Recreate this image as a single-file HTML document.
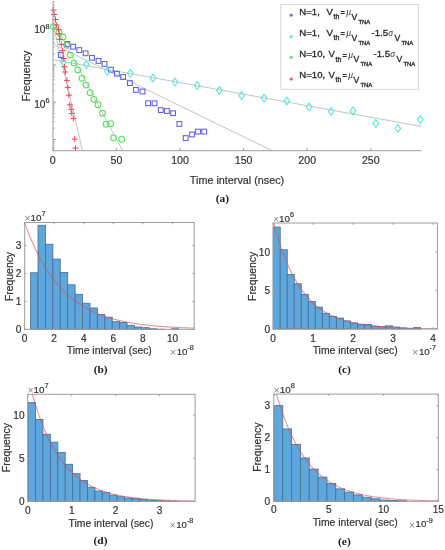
<!DOCTYPE html>
<html><head><meta charset="utf-8"><title>Figure</title>
<style>html,body{margin:0;padding:0;background:#fff;}svg{display:block;}svg text{stroke:#2b2b2b;stroke-width:0.18px;}svg .lg text{stroke-width:0.32px;}</style>
</head><body>
<svg width="445" height="550" viewBox="0 0 445 550">
<rect width="445" height="550" fill="#fff"/>
<g stroke="#c4c4c4" stroke-width="1" fill="none">
<line x1="53.0" y1="24.0" x2="82.5" y2="150.7"/>
<line x1="53.0" y1="20.5" x2="122.6" y2="150.7"/>
<line x1="53.0" y1="44.0" x2="272.1" y2="150.7"/>
<line x1="53.0" y1="59.6" x2="421.4" y2="126.4"/>
</g>
<g stroke="#5f5fe2" stroke-width="1.05" fill="none">
<rect x="58.4" y="52.6" width="4.8" height="4.8"/>
<rect x="65" y="41.6" width="4.8" height="4.8"/>
<rect x="70.7" y="44.3" width="4.8" height="4.8"/>
<rect x="76.9" y="47.7" width="4.8" height="4.8"/>
<rect x="83.2" y="50.9" width="4.8" height="4.8"/>
<rect x="89.6" y="55.4" width="4.8" height="4.8"/>
<rect x="96.1" y="58.5" width="4.8" height="4.8"/>
<rect x="102.1" y="61.5" width="4.8" height="4.8"/>
<rect x="108.5" y="67.3" width="4.8" height="4.8"/>
<rect x="114.5" y="71.3" width="4.8" height="4.8"/>
<rect x="120.7" y="74.6" width="4.8" height="4.8"/>
<rect x="127.5" y="80.7" width="4.8" height="4.8"/>
<rect x="133.5" y="87.5" width="4.8" height="4.8"/>
<rect x="140.1" y="89.1" width="4.8" height="4.8"/>
<rect x="145.7" y="100.9" width="4.8" height="4.8"/>
<rect x="152.1" y="100.9" width="4.8" height="4.8"/>
<rect x="158.4" y="107.7" width="4.8" height="4.8"/>
<rect x="164.5" y="108.6" width="4.8" height="4.8"/>
<rect x="170.7" y="110.8" width="4.8" height="4.8"/>
<rect x="177" y="121.5" width="4.8" height="4.8"/>
<rect x="183.3" y="135.7" width="4.8" height="4.8"/>
<rect x="189.6" y="132.1" width="4.8" height="4.8"/>
<rect x="195.6" y="129.2" width="4.8" height="4.8"/>
<rect x="201.8" y="129.2" width="4.8" height="4.8"/>
</g>
<g stroke="#55e4dd" stroke-width="1.05" fill="none">
<path d="M63.5 58.4L66.3 62.3L63.5 66.2L60.7 62.3Z"/>
<path d="M86.3 60.7L89.1 64.6L86.3 68.5L83.5 64.6Z"/>
<path d="M107.2 67.4L110 71.3L107.2 75.2L104.4 71.3Z"/>
<path d="M130.4 69.4L133.2 73.3L130.4 77.2L127.6 73.3Z"/>
<path d="M152.9 74.1L155.7 78L152.9 81.9L150.1 78Z"/>
<path d="M174.9 78.1L177.7 82L174.9 85.9L172.1 82Z"/>
<path d="M197.2 81.6L200 85.5L197.2 89.4L194.4 85.5Z"/>
<path d="M219.4 86.6L222.2 90.5L219.4 94.4L216.6 90.5Z"/>
<path d="M241.7 91.7L244.5 95.6L241.7 99.5L238.9 95.6Z"/>
<path d="M264.1 94.2L266.9 98.1L264.1 102L261.3 98.1Z"/>
<path d="M286.8 97.1L289.6 101L286.8 104.9L284 101Z"/>
<path d="M309.1 103.1L311.9 107L309.1 110.9L306.3 107Z"/>
<path d="M331.2 107.6L334 111.5L331.2 115.4L328.4 111.5Z"/>
<path d="M353 107L355.8 110.9L353 114.8L350.2 110.9Z"/>
<path d="M375.8 119.5L378.6 123.4L375.8 127.3L373 123.4Z"/>
<path d="M397.8 124.6L400.6 128.5L397.8 132.4L395 128.5Z"/>
<path d="M420.3 115.7L423.1 119.6L420.3 123.5L417.5 119.6Z"/>
</g>
<g stroke="#5cdd5c" stroke-width="1.05" fill="none">
<circle cx="53.4" cy="26.6" r="2.9"/>
<circle cx="59" cy="32.6" r="2.9"/>
<circle cx="63" cy="37" r="2.9"/>
<circle cx="66.6" cy="45.3" r="2.9"/>
<circle cx="70.2" cy="55.1" r="2.9"/>
<circle cx="74" cy="63.1" r="2.9"/>
<circle cx="77.8" cy="69.9" r="2.9"/>
<circle cx="82" cy="78.3" r="2.9"/>
<circle cx="86.1" cy="85.1" r="2.9"/>
<circle cx="90.2" cy="92.7" r="2.9"/>
<circle cx="93.9" cy="99.3" r="2.9"/>
<circle cx="98" cy="104.7" r="2.9"/>
<circle cx="102.5" cy="113.2" r="2.9"/>
<circle cx="106" cy="124.3" r="2.9"/>
<circle cx="110.6" cy="123.7" r="2.9"/>
<circle cx="113.6" cy="137.8" r="2.9"/>
<circle cx="121.7" cy="139.3" r="2.9"/>
</g>
<g stroke="#ec4452" stroke-width="1.0" fill="none">
<path d="M50.4 10.1H56.4M53.4 7.1V13.1"/>
<path d="M51.1 14.5H57.1M54.1 11.5V17.5"/>
<path d="M52.5 19.6H58.5M55.5 16.6V22.6"/>
<path d="M53.8 25H59.8M56.8 22V28"/>
<path d="M55.5 29.4H61.5M58.5 26.4V32.4"/>
<path d="M56 33.7H62M59 30.7V36.7"/>
<path d="M56.6 39.3H62.6M59.6 36.3V42.3"/>
<path d="M58.3 44.4H64.3M61.3 41.4V47.4"/>
<path d="M59.4 50.7H65.4M62.4 47.7V53.7"/>
<path d="M60.8 58.5H66.8M63.8 55.5V61.5"/>
<path d="M61.4 66.8H67.4M64.4 63.8V69.8"/>
<path d="M62.3 72H68.3M65.3 69V75"/>
<path d="M63.9 80.4H69.9M66.9 77.4V83.4"/>
<path d="M64.8 87.4H70.8M67.8 84.4V90.4"/>
<path d="M65.9 95.2H71.9M68.9 92.2V98.2"/>
<path d="M66.8 104.9H72.8M69.8 101.9V107.9"/>
<path d="M68.2 109.3H74.2M71.2 106.3V112.3"/>
<path d="M68.8 113.4H74.8M71.8 110.4V116.4"/>
<path d="M70.4 118.6H76.4M73.4 115.6V121.6"/>
<path d="M71.7 139.1H77.7M74.7 136.1V142.1"/>
<path d="M72.5 148.1H78.5M75.5 145.1V151.1"/>
</g>
<g stroke="#9c9c9c" stroke-width="1" fill="none">
<path d="M53.0 1.6V150.7H421.4"/>
<line x1="52.8" y1="150.7" x2="52.8" y2="148.1"/>
<line x1="116.4" y1="150.7" x2="116.4" y2="148.1"/>
<line x1="180" y1="150.7" x2="180" y2="148.1"/>
<line x1="243.6" y1="150.7" x2="243.6" y2="148.1"/>
<line x1="307.2" y1="150.7" x2="307.2" y2="148.1"/>
<line x1="370.8" y1="150.7" x2="370.8" y2="148.1"/>
<line x1="53.0" y1="150.66" x2="54.6" y2="150.66"/>
<line x1="53.0" y1="147.71" x2="54.6" y2="147.71"/>
<line x1="53.0" y1="145.22" x2="54.6" y2="145.22"/>
<line x1="53.0" y1="143.06" x2="54.6" y2="143.06"/>
<line x1="53.0" y1="141.15" x2="54.6" y2="141.15"/>
<line x1="53.0" y1="139.45" x2="56" y2="139.45"/>
<line x1="53.0" y1="128.24" x2="54.6" y2="128.24"/>
<line x1="53.0" y1="121.68" x2="54.6" y2="121.68"/>
<line x1="53.0" y1="117.02" x2="54.6" y2="117.02"/>
<line x1="53.0" y1="113.41" x2="54.6" y2="113.41"/>
<line x1="53.0" y1="110.46" x2="54.6" y2="110.46"/>
<line x1="53.0" y1="107.97" x2="54.6" y2="107.97"/>
<line x1="53.0" y1="105.81" x2="54.6" y2="105.81"/>
<line x1="53.0" y1="103.9" x2="54.6" y2="103.9"/>
<line x1="53.0" y1="102.2" x2="56" y2="102.2"/>
<line x1="53.0" y1="90.99" x2="54.6" y2="90.99"/>
<line x1="53.0" y1="84.43" x2="54.6" y2="84.43"/>
<line x1="53.0" y1="79.77" x2="54.6" y2="79.77"/>
<line x1="53.0" y1="76.16" x2="54.6" y2="76.16"/>
<line x1="53.0" y1="73.21" x2="54.6" y2="73.21"/>
<line x1="53.0" y1="70.72" x2="54.6" y2="70.72"/>
<line x1="53.0" y1="68.56" x2="54.6" y2="68.56"/>
<line x1="53.0" y1="66.65" x2="54.6" y2="66.65"/>
<line x1="53.0" y1="64.95" x2="56" y2="64.95"/>
<line x1="53.0" y1="53.74" x2="54.6" y2="53.74"/>
<line x1="53.0" y1="47.18" x2="54.6" y2="47.18"/>
<line x1="53.0" y1="42.52" x2="54.6" y2="42.52"/>
<line x1="53.0" y1="38.91" x2="54.6" y2="38.91"/>
<line x1="53.0" y1="35.96" x2="54.6" y2="35.96"/>
<line x1="53.0" y1="33.47" x2="54.6" y2="33.47"/>
<line x1="53.0" y1="31.31" x2="54.6" y2="31.31"/>
<line x1="53.0" y1="29.4" x2="54.6" y2="29.4"/>
<line x1="53.0" y1="27.7" x2="56" y2="27.7"/>
<line x1="53.0" y1="16.49" x2="54.6" y2="16.49"/>
<line x1="53.0" y1="9.93" x2="54.6" y2="9.93"/>
<line x1="53.0" y1="5.27" x2="54.6" y2="5.27"/>
<line x1="53.0" y1="1.66" x2="54.6" y2="1.66"/>
</g>
<g font-family='"Liberation Sans", Arial, Helvetica, sans-serif' fill="#333333" font-size="10.6" text-anchor="middle">
<text x="52.8" y="164">0</text>
<text x="116.4" y="164">50</text>
<text x="180" y="164">100</text>
<text x="243.6" y="164">150</text>
<text x="307.2" y="164">200</text>
<text x="370.8" y="164">250</text>
</g>
<text font-family='"Liberation Sans", Arial, Helvetica, sans-serif' fill="#333333" font-size="10.2" x="34.2" y="33.1">10<tspan font-size="7.2" dy="-4.3">8</tspan></text>
<text font-family='"Liberation Sans", Arial, Helvetica, sans-serif' fill="#333333" font-size="10.2" x="34.2" y="107.6">10<tspan font-size="7.2" dy="-4.3">6</tspan></text>
<text font-family='"Liberation Sans", Arial, Helvetica, sans-serif' fill="#333333" font-size="10.8" text-anchor="middle" x="237" y="184">Time interval (nsec)</text>
<text font-family='"Liberation Sans", Arial, Helvetica, sans-serif' fill="#333333" font-size="10.8" text-anchor="middle" transform="translate(30.0 76.0) rotate(-90)">Frequency</text>
<text font-family='"Liberation Serif", "Times New Roman", serif' font-weight="bold" fill="#1a1a1a" style="stroke:none" font-size="11.4" text-anchor="middle" x="222.3" y="202.2">(a)</text>
<g class="lg">
<rect x="280.8" y="4.5" width="137.8" height="84.8" fill="#fff" stroke="#d6d6d6" stroke-width="1"/>
<circle cx="291.2" cy="15.2" r="1.6" fill="#5a5ae0" fill-opacity="0.85"/>
<text font-family='"Liberation Sans", Arial, Helvetica, sans-serif' fill='#262626' font-size="9.6" x="299.3" y="15">N=1,</text>
<text font-family='"Liberation Sans", Arial, Helvetica, sans-serif' fill='#262626' font-size="9.6" x="326.6" y="15">V</text>
<text font-family='"Liberation Sans", Arial, Helvetica, sans-serif' fill='#262626' font-size="7" x="333.6" y="19.4">th</text>
<text font-family='"Liberation Sans", Arial, Helvetica, sans-serif' fill='#262626' font-size="7.4" x="340.6" y="15.4">=</text>
<text font-family='"Liberation Serif", "Times New Roman", serif' font-style='italic' fill='#333' style='stroke:none' font-size="9.6" x="346.2" y="15.4">&#956;</text>
<text font-family='"Liberation Sans", Arial, Helvetica, sans-serif' fill='#262626' font-size="8.6" x="351.5" y="19.6">V</text>
<text font-family='"Liberation Sans", Arial, Helvetica, sans-serif' fill='#262626' font-size="5.9" x="358.5" y="23.9">TNA</text>
<circle cx="291.2" cy="36.7" r="1.6" fill="#4ce3dc" fill-opacity="0.85"/>
<text font-family='"Liberation Sans", Arial, Helvetica, sans-serif' fill='#262626' font-size="9.6" x="299.3" y="36">N=1,</text>
<text font-family='"Liberation Sans", Arial, Helvetica, sans-serif' fill='#262626' font-size="9.6" x="326.6" y="36">V</text>
<text font-family='"Liberation Sans", Arial, Helvetica, sans-serif' fill='#262626' font-size="7" x="333.6" y="40.4">th</text>
<text font-family='"Liberation Sans", Arial, Helvetica, sans-serif' fill='#262626' font-size="7.4" x="340.6" y="36.4">=</text>
<text font-family='"Liberation Serif", "Times New Roman", serif' font-style='italic' fill='#333' style='stroke:none' font-size="9.6" x="346.2" y="36.4">&#956;</text>
<text font-family='"Liberation Sans", Arial, Helvetica, sans-serif' fill='#262626' font-size="8.6" x="351.5" y="40.6">V</text>
<text font-family='"Liberation Sans", Arial, Helvetica, sans-serif' fill='#262626' font-size="5.9" x="358.5" y="44.9">TNA</text>
<text font-family='"Liberation Sans", Arial, Helvetica, sans-serif' fill='#262626' font-size="9.6" x="371.6" y="36">-1.5</text>
<text font-family='"Liberation Serif", "Times New Roman", serif' font-style='italic' fill='#333' style='stroke:none' font-size="9.6" x="388.2" y="36">&#963;</text>
<text font-family='"Liberation Sans", Arial, Helvetica, sans-serif' fill='#262626' font-size="8.6" x="394.5" y="40.6">V</text>
<text font-family='"Liberation Sans", Arial, Helvetica, sans-serif' fill='#262626' font-size="5.9" x="401.4" y="44.9">TNA</text>
<circle cx="291.2" cy="57.4" r="1.6" fill="#4fdc4f" fill-opacity="0.85"/>
<text font-family='"Liberation Sans", Arial, Helvetica, sans-serif' fill='#262626' font-size="9.6" x="299.3" y="57.2">N=10,</text>
<text font-family='"Liberation Sans", Arial, Helvetica, sans-serif' fill='#262626' font-size="9.6" x="328.6" y="57.2">V</text>
<text font-family='"Liberation Sans", Arial, Helvetica, sans-serif' fill='#262626' font-size="7" x="335.6" y="61.6">th</text>
<text font-family='"Liberation Sans", Arial, Helvetica, sans-serif' fill='#262626' font-size="7.4" x="342.6" y="57.6">=</text>
<text font-family='"Liberation Serif", "Times New Roman", serif' font-style='italic' fill='#333' style='stroke:none' font-size="9.6" x="348.2" y="57.6">&#956;</text>
<text font-family='"Liberation Sans", Arial, Helvetica, sans-serif' fill='#262626' font-size="8.6" x="353.5" y="61.8">V</text>
<text font-family='"Liberation Sans", Arial, Helvetica, sans-serif' fill='#262626' font-size="5.9" x="360.5" y="66.1">TNA</text>
<text font-family='"Liberation Sans", Arial, Helvetica, sans-serif' fill='#262626' font-size="9.6" x="373.6" y="57.2">-1.5</text>
<text font-family='"Liberation Serif", "Times New Roman", serif' font-style='italic' fill='#333' style='stroke:none' font-size="9.6" x="390.2" y="57.2">&#963;</text>
<text font-family='"Liberation Sans", Arial, Helvetica, sans-serif' fill='#262626' font-size="8.6" x="396.5" y="61.8">V</text>
<text font-family='"Liberation Sans", Arial, Helvetica, sans-serif' fill='#262626' font-size="5.9" x="403.4" y="66.1">TNA</text>
<circle cx="291.2" cy="79" r="1.6" fill="#ec3b48" fill-opacity="0.85"/>
<text font-family='"Liberation Sans", Arial, Helvetica, sans-serif' fill='#262626' font-size="9.6" x="299.3" y="77.9">N=10,</text>
<text font-family='"Liberation Sans", Arial, Helvetica, sans-serif' fill='#262626' font-size="9.6" x="328.6" y="77.9">V</text>
<text font-family='"Liberation Sans", Arial, Helvetica, sans-serif' fill='#262626' font-size="7" x="335.6" y="82.3">th</text>
<text font-family='"Liberation Sans", Arial, Helvetica, sans-serif' fill='#262626' font-size="7.4" x="342.6" y="78.3">=</text>
<text font-family='"Liberation Serif", "Times New Roman", serif' font-style='italic' fill='#333' style='stroke:none' font-size="9.6" x="348.2" y="78.3">&#956;</text>
<text font-family='"Liberation Sans", Arial, Helvetica, sans-serif' fill='#262626' font-size="8.6" x="353.5" y="82.5">V</text>
<text font-family='"Liberation Sans", Arial, Helvetica, sans-serif' fill='#262626' font-size="5.9" x="360.5" y="86.8">TNA</text>
</g>
<g fill="#5da7dc" stroke="#4a7094" stroke-width="0.85">
<rect x="30.6" y="272.78" width="7.42" height="56.52"/>
<rect x="38.02" y="225.27" width="7.42" height="104.03"/>
<rect x="45.44" y="244.27" width="7.42" height="85.03"/>
<rect x="52.86" y="259.09" width="7.42" height="70.21"/>
<rect x="60.28" y="272.5" width="7.42" height="56.8"/>
<rect x="67.7" y="284.8" width="7.42" height="44.5"/>
<rect x="75.12" y="294.3" width="7.42" height="35"/>
<rect x="82.54" y="303.25" width="7.42" height="26.05"/>
<rect x="89.96" y="308" width="7.42" height="21.3"/>
<rect x="97.38" y="314.43" width="7.42" height="14.87"/>
<rect x="104.8" y="317.22" width="7.42" height="12.08"/>
<rect x="112.22" y="321.69" width="7.42" height="7.61"/>
<rect x="119.64" y="322.53" width="7.42" height="6.77"/>
<rect x="127.06" y="325.33" width="7.42" height="3.97"/>
<rect x="134.48" y="327" width="7.42" height="2.3"/>
<rect x="141.9" y="327.7" width="7.42" height="1.6"/>
<rect x="149.32" y="328.79" width="7.42" height="0.51"/>
<rect x="156.74" y="329.24" width="7.42" height="0.06"/>
<rect x="164.16" y="329.46" width="7.42" height="-0.16"/>
<rect x="171.58" y="328.79" width="7.42" height="0.51"/>
<rect x="179" y="329.52" width="7.42" height="-0.22"/>
</g>
<path d="M24.55 222.5 L25.97 226.39 L27.38 230.13 L28.8 233.74 L30.21 237.22 L31.62 240.57 L33.04 243.8 L34.45 246.91 L35.87 249.91 L37.28 252.8 L38.69 255.59 L40.11 258.27 L41.52 260.86 L42.94 263.35 L44.35 265.75 L45.77 268.07 L47.18 270.3 L48.59 272.44 L50.01 274.51 L51.42 276.51 L52.84 278.43 L54.25 280.29 L55.67 282.07 L57.08 283.79 L58.49 285.45 L59.91 287.05 L61.32 288.59 L62.74 290.07 L64.15 291.5 L65.56 292.88 L66.98 294.21 L68.39 295.49 L69.81 296.72 L71.22 297.91 L72.64 299.05 L74.05 300.16 L75.46 301.22 L76.88 302.25 L78.29 303.23 L79.71 304.18 L81.12 305.1 L82.53 305.98 L83.95 306.84 L85.36 307.66 L86.78 308.45 L88.19 309.21 L89.61 309.94 L91.02 310.65 L92.43 311.33 L93.85 311.99 L95.26 312.62 L96.68 313.23 L98.09 313.82 L99.51 314.39 L100.92 314.93 L102.33 315.46 L103.75 315.96 L105.16 316.45 L106.58 316.92 L107.99 317.38 L109.4 317.81 L110.82 318.24 L112.23 318.64 L113.65 319.03 L115.06 319.41 L116.48 319.77 L117.89 320.12 L119.3 320.46 L120.72 320.79 L122.13 321.1 L123.55 321.4 L124.96 321.69 L126.37 321.97 L127.79 322.24 L129.2 322.5 L130.62 322.75 L132.03 322.99 L133.45 323.23 L134.86 323.45 L136.27 323.67 L137.69 323.88 L139.1 324.08 L140.52 324.27 L141.93 324.46 L143.35 324.64 L144.76 324.81 L146.17 324.98 L147.59 325.14 L149 325.29 L150.42 325.44 L151.83 325.59 L153.24 325.72 L154.66 325.86 L156.07 325.99 L157.49 326.11 L158.9 326.23 L160.32 326.35 L161.73 326.46 L163.14 326.56 L164.56 326.67 L165.97 326.77 L167.39 326.86 L168.8 326.95 L170.21 327.04 L171.63 327.13 L173.04 327.21 L174.46 327.29 L175.87 327.37 L177.29 327.44 L178.7 327.51 L180.11 327.58 L181.53 327.65 L182.94 327.71 L184.36 327.77 L185.77 327.83 L187.19 327.89 L188.6 327.94 L190.01 328 L191.43 328.05 L192.84 328.1 L194.26 328.14" fill="none" stroke="#dc4a5e" stroke-opacity="0.62" stroke-width="1.05"/>
<rect x="24.7" y="222.5" width="169.5" height="106.8" fill="none" stroke="#9c9c9c" stroke-width="1"/>
<g stroke="#9c9c9c" stroke-width="1">
<line x1="24.5" y1="329.3" x2="24.5" y2="327.5"/><line x1="24.5" y1="222.5" x2="24.5" y2="224.3"/>
<line x1="54.1" y1="329.3" x2="54.1" y2="327.5"/><line x1="54.1" y1="222.5" x2="54.1" y2="224.3"/>
<line x1="83.7" y1="329.3" x2="83.7" y2="327.5"/><line x1="83.7" y1="222.5" x2="83.7" y2="224.3"/>
<line x1="113.3" y1="329.3" x2="113.3" y2="327.5"/><line x1="113.3" y1="222.5" x2="113.3" y2="224.3"/>
<line x1="142.9" y1="329.3" x2="142.9" y2="327.5"/><line x1="142.9" y1="222.5" x2="142.9" y2="224.3"/>
<line x1="172.5" y1="329.3" x2="172.5" y2="327.5"/><line x1="172.5" y1="222.5" x2="172.5" y2="224.3"/>
<line x1="24.7" y1="329.4" x2="26.5" y2="329.4"/><line x1="194.2" y1="329.4" x2="192.4" y2="329.4"/>
<line x1="24.7" y1="301.45" x2="26.5" y2="301.45"/><line x1="194.2" y1="301.45" x2="192.4" y2="301.45"/>
<line x1="24.7" y1="273.5" x2="26.5" y2="273.5"/><line x1="194.2" y1="273.5" x2="192.4" y2="273.5"/>
<line x1="24.7" y1="245.55" x2="26.5" y2="245.55"/><line x1="194.2" y1="245.55" x2="192.4" y2="245.55"/>
</g>
<g font-family='"Liberation Sans", Arial, Helvetica, sans-serif' fill="#333333" font-size="10.1" text-anchor="middle">
<text x="24.5" y="341.9">0</text>
<text x="54.1" y="341.9">2</text>
<text x="83.7" y="341.9">4</text>
<text x="113.3" y="341.9">6</text>
<text x="142.9" y="341.9">8</text>
<text x="172.5" y="341.9">10</text>
</g>
<g font-family='"Liberation Sans", Arial, Helvetica, sans-serif' fill="#333333" font-size="10.1" text-anchor="end">
<text x="21.3" y="332.9">0</text>
<text x="21.3" y="304.95">1</text>
<text x="21.3" y="277">2</text>
<text x="21.3" y="249.05">3</text>
</g>
<text font-family='"Liberation Sans", Arial, Helvetica, sans-serif' fill="#333333" font-size="9.9" x="24.4" y="221.4"><tspan fill="#858585" font-size="10.4" dy="0.9" style="stroke:none">&#215;</tspan><tspan dy="-0.9">10</tspan><tspan font-size="7.4" dy="-5.0">7</tspan></text>
<text font-family='"Liberation Sans", Arial, Helvetica, sans-serif' fill="#333333" font-size="10.4" text-anchor="middle" x="109.3" y="353.5">Time interval (sec)</text>
<text font-family='"Liberation Sans", Arial, Helvetica, sans-serif' fill="#333333" font-size="9.6" x="170" y="354.5"><tspan fill="#858585" font-size="10.4" dy="1.2" style="stroke:none">&#215;</tspan><tspan dx="0.6" dy="-1.2">10</tspan><tspan font-size="7.2" dy="-4.8">-8</tspan></text>
<text font-family='"Liberation Sans", Arial, Helvetica, sans-serif' fill="#333333" font-size="10.4" text-anchor="middle" transform="translate(13.2 276.5) rotate(-90)">Frequency</text>
<text font-family='"Liberation Serif", "Times New Roman", serif' font-weight="bold" fill="#1a1a1a" style="stroke:none" font-size="11.4" text-anchor="middle" x="100.6" y="373.1">(b)</text>
<g fill="#5da7dc" stroke="#4a7094" stroke-width="0.85">
<rect x="273.2" y="227.06" width="7.02" height="101.94"/>
<rect x="280.22" y="249.77" width="7.02" height="79.23"/>
<rect x="287.24" y="274.49" width="7.02" height="54.51"/>
<rect x="294.26" y="283.73" width="7.02" height="45.27"/>
<rect x="301.28" y="294.36" width="7.02" height="34.64"/>
<rect x="308.3" y="301.6" width="7.02" height="27.4"/>
<rect x="315.32" y="307.14" width="7.02" height="21.86"/>
<rect x="322.34" y="313.3" width="7.02" height="15.7"/>
<rect x="329.36" y="316.38" width="7.02" height="12.62"/>
<rect x="336.38" y="318.07" width="7.02" height="10.93"/>
<rect x="343.4" y="320.92" width="7.02" height="8.08"/>
<rect x="350.42" y="322.93" width="7.02" height="6.07"/>
<rect x="357.44" y="324.31" width="7.02" height="4.69"/>
<rect x="364.46" y="324.46" width="7.02" height="4.54"/>
<rect x="371.48" y="326.16" width="7.02" height="2.84"/>
<rect x="378.5" y="326.62" width="7.02" height="2.38"/>
<rect x="385.52" y="325.85" width="7.02" height="3.15"/>
<rect x="392.54" y="327.01" width="7.02" height="1.99"/>
<rect x="399.56" y="327.93" width="7.02" height="1.07"/>
<rect x="406.58" y="328.47" width="7.02" height="0.53"/>
<rect x="413.6" y="327.62" width="7.02" height="1.38"/>
</g>
<path d="M273.83 223 L275.19 228.04 L276.56 232.84 L277.92 237.41 L279.29 241.77 L280.65 245.91 L282.01 249.86 L283.38 253.63 L284.74 257.21 L286.11 260.62 L287.47 263.87 L288.83 266.97 L290.2 269.92 L291.56 272.73 L292.93 275.4 L294.29 277.95 L295.65 280.38 L297.02 282.69 L298.38 284.89 L299.74 286.99 L301.11 288.99 L302.47 290.89 L303.84 292.7 L305.2 294.43 L306.56 296.07 L307.93 297.64 L309.29 299.13 L310.66 300.55 L312.02 301.9 L313.38 303.19 L314.75 304.42 L316.11 305.58 L317.48 306.7 L318.84 307.76 L320.2 308.77 L321.57 309.73 L322.93 310.65 L324.3 311.52 L325.66 312.35 L327.02 313.14 L328.39 313.9 L329.75 314.61 L331.11 315.3 L332.48 315.95 L333.84 316.57 L335.21 317.16 L336.57 317.72 L337.93 318.26 L339.3 318.77 L340.66 319.26 L342.03 319.72 L343.39 320.16 L344.75 320.58 L346.12 320.98 L347.48 321.36 L348.85 321.73 L350.21 322.07 L351.57 322.4 L352.94 322.71 L354.3 323.01 L355.67 323.3 L357.03 323.57 L358.39 323.83 L359.76 324.07 L361.12 324.31 L362.48 324.53 L363.85 324.74 L365.21 324.95 L366.58 325.14 L367.94 325.32 L369.3 325.5 L370.67 325.66 L372.03 325.82 L373.4 325.97 L374.76 326.12 L376.12 326.25 L377.49 326.38 L378.85 326.51 L380.22 326.63 L381.58 326.74 L382.94 326.85 L384.31 326.95 L385.67 327.05 L387.04 327.14 L388.4 327.23 L389.76 327.31 L391.13 327.39 L392.49 327.47 L393.85 327.54 L395.22 327.61 L396.58 327.68 L397.95 327.74 L399.31 327.8 L400.67 327.86 L402.04 327.91 L403.4 327.96 L404.77 328.01 L406.13 328.06 L407.49 328.1 L408.86 328.15 L410.22 328.19 L411.59 328.23 L412.95 328.26 L414.31 328.3 L415.68 328.33 L417.04 328.36 L418.41 328.39 L419.77 328.42 L421.13 328.45 L422.5 328.48 L423.86 328.5 L425.22 328.52 L426.59 328.55 L427.95 328.57 L429.32 328.59 L430.68 328.61 L432.04 328.63 L433.41 328.65 L434.77 328.66 L436.14 328.68 L437.5 328.69" fill="none" stroke="#dc4a5e" stroke-opacity="0.62" stroke-width="1.05"/>
<rect x="273.2" y="223.0" width="164.2" height="106" fill="none" stroke="#9c9c9c" stroke-width="1"/>
<g stroke="#9c9c9c" stroke-width="1">
<line x1="273.1" y1="329.0" x2="273.1" y2="327.2"/><line x1="273.1" y1="223.0" x2="273.1" y2="224.8"/>
<line x1="313.1" y1="329.0" x2="313.1" y2="327.2"/><line x1="313.1" y1="223.0" x2="313.1" y2="224.8"/>
<line x1="353.1" y1="329.0" x2="353.1" y2="327.2"/><line x1="353.1" y1="223.0" x2="353.1" y2="224.8"/>
<line x1="393.1" y1="329.0" x2="393.1" y2="327.2"/><line x1="393.1" y1="223.0" x2="393.1" y2="224.8"/>
<line x1="433.1" y1="329.0" x2="433.1" y2="327.2"/><line x1="433.1" y1="223.0" x2="433.1" y2="224.8"/>
<line x1="273.2" y1="329" x2="275" y2="329"/><line x1="437.4" y1="329" x2="435.6" y2="329"/>
<line x1="273.2" y1="290.5" x2="275" y2="290.5"/><line x1="437.4" y1="290.5" x2="435.6" y2="290.5"/>
<line x1="273.2" y1="252" x2="275" y2="252"/><line x1="437.4" y1="252" x2="435.6" y2="252"/>
</g>
<g font-family='"Liberation Sans", Arial, Helvetica, sans-serif' fill="#333333" font-size="10.1" text-anchor="middle">
<text x="273.1" y="341.5">0</text>
<text x="313.1" y="341.5">1</text>
<text x="353.1" y="341.5">2</text>
<text x="393.1" y="341.5">3</text>
<text x="433.1" y="341.5">4</text>
</g>
<g font-family='"Liberation Sans", Arial, Helvetica, sans-serif' fill="#333333" font-size="10.1" text-anchor="end">
<text x="270" y="332.5">0</text>
<text x="270" y="294">5</text>
<text x="270" y="255.5">10</text>
</g>
<text font-family='"Liberation Sans", Arial, Helvetica, sans-serif' fill="#333333" font-size="9.9" x="272.9" y="221.9"><tspan fill="#858585" font-size="10.4" dy="0.9" style="stroke:none">&#215;</tspan><tspan dy="-0.9">10</tspan><tspan font-size="7.4" dy="-5.0">6</tspan></text>
<text font-family='"Liberation Sans", Arial, Helvetica, sans-serif' fill="#333333" font-size="10.4" text-anchor="middle" x="355.2" y="353.5">Time interval (sec)</text>
<text font-family='"Liberation Sans", Arial, Helvetica, sans-serif' fill="#333333" font-size="9.6" x="412.2" y="354.5"><tspan fill="#858585" font-size="10.4" dy="1.2" style="stroke:none">&#215;</tspan><tspan dx="0.6" dy="-1.2">10</tspan><tspan font-size="7.2" dy="-4.8">-7</tspan></text>
<text font-family='"Liberation Sans", Arial, Helvetica, sans-serif' fill="#333333" font-size="10.4" text-anchor="middle" transform="translate(256.3 276.4) rotate(-90)">Frequency</text>
<text font-family='"Liberation Serif", "Times New Roman", serif' font-weight="bold" fill="#1a1a1a" style="stroke:none" font-size="11.4" text-anchor="middle" x="344.6" y="373.1">(c)</text>
<g fill="#5da7dc" stroke="#4a7094" stroke-width="0.85">
<rect x="28.1" y="402.65" width="7.42" height="98.75"/>
<rect x="35.52" y="419.48" width="7.42" height="81.92"/>
<rect x="42.94" y="434.24" width="7.42" height="67.16"/>
<rect x="50.36" y="442.18" width="7.42" height="59.22"/>
<rect x="57.78" y="452.54" width="7.42" height="48.86"/>
<rect x="65.2" y="464.27" width="7.42" height="37.13"/>
<rect x="72.62" y="473.68" width="7.42" height="27.72"/>
<rect x="80.04" y="480.58" width="7.42" height="20.82"/>
<rect x="87.46" y="487.32" width="7.42" height="14.08"/>
<rect x="94.88" y="491.03" width="7.42" height="10.37"/>
<rect x="102.3" y="492.67" width="7.42" height="8.73"/>
<rect x="109.72" y="495.17" width="7.42" height="6.23"/>
<rect x="117.14" y="496.72" width="7.42" height="4.68"/>
<rect x="124.56" y="497.93" width="7.42" height="3.47"/>
<rect x="131.98" y="498.62" width="7.42" height="2.78"/>
<rect x="139.4" y="499.57" width="7.42" height="1.83"/>
<rect x="146.82" y="500.09" width="7.42" height="1.31"/>
<rect x="154.24" y="500.61" width="7.42" height="0.79"/>
<rect x="161.66" y="500.95" width="7.42" height="0.45"/>
<rect x="169.08" y="501.21" width="7.42" height="0.19"/>
<rect x="176.5" y="501.47" width="7.42" height="-0.07"/>
<rect x="183.92" y="501.64" width="7.42" height="-0.24"/>
</g>
<path d="M32.37 394.3 L33.73 399.01 L35.09 403.51 L36.45 407.81 L37.81 411.92 L39.16 415.86 L40.52 419.62 L41.88 423.21 L43.24 426.65 L44.6 429.94 L45.96 433.08 L47.32 436.08 L48.67 438.96 L50.03 441.7 L51.39 444.33 L52.75 446.84 L54.11 449.24 L55.47 451.53 L56.83 453.73 L58.19 455.83 L59.54 457.83 L60.9 459.75 L62.26 461.58 L63.62 463.34 L64.98 465.01 L66.34 466.61 L67.7 468.15 L69.05 469.61 L70.41 471.01 L71.77 472.35 L73.13 473.63 L74.49 474.85 L75.85 476.02 L77.21 477.14 L78.56 478.21 L79.92 479.23 L81.28 480.21 L82.64 481.15 L84 482.04 L85.36 482.89 L86.72 483.71 L88.08 484.49 L89.43 485.24 L90.79 485.95 L92.15 486.64 L93.51 487.29 L94.87 487.91 L96.23 488.51 L97.59 489.08 L98.94 489.63 L100.3 490.15 L101.66 490.65 L103.02 491.12 L104.38 491.58 L105.74 492.01 L107.1 492.43 L108.45 492.83 L109.81 493.21 L111.17 493.57 L112.53 493.92 L113.89 494.25 L115.25 494.57 L116.61 494.88 L117.96 495.17 L119.32 495.45 L120.68 495.71 L122.04 495.97 L123.4 496.21 L124.76 496.44 L126.12 496.66 L127.48 496.88 L128.83 497.08 L130.19 497.27 L131.55 497.46 L132.91 497.64 L134.27 497.81 L135.63 497.97 L136.99 498.12 L138.34 498.27 L139.7 498.41 L141.06 498.55 L142.42 498.68 L143.78 498.8 L145.14 498.92 L146.5 499.03 L147.85 499.14 L149.21 499.25 L150.57 499.34 L151.93 499.44 L153.29 499.53 L154.65 499.62 L156.01 499.7 L157.37 499.78 L158.72 499.85 L160.08 499.93 L161.44 499.99 L162.8 500.06 L164.16 500.12 L165.52 500.18 L166.88 500.24 L168.23 500.3 L169.59 500.35 L170.95 500.4 L172.31 500.45 L173.67 500.5 L175.03 500.54 L176.39 500.58 L177.74 500.62 L179.1 500.66 L180.46 500.7 L181.82 500.73 L183.18 500.77 L184.54 500.8 L185.9 500.83 L187.26 500.86 L188.61 500.89 L189.97 500.91 L191.33 500.94 L192.69 500.96 L194.05 500.99 L195.41 501.01" fill="none" stroke="#dc4a5e" stroke-opacity="0.62" stroke-width="1.05"/>
<rect x="27.7" y="394.3" width="167.4" height="107.1" fill="none" stroke="#9c9c9c" stroke-width="1"/>
<g stroke="#9c9c9c" stroke-width="1">
<line x1="27.9" y1="501.4" x2="27.9" y2="499.6"/><line x1="27.9" y1="394.3" x2="27.9" y2="396.1"/>
<line x1="71.75" y1="501.4" x2="71.75" y2="499.6"/><line x1="71.75" y1="394.3" x2="71.75" y2="396.1"/>
<line x1="115.6" y1="501.4" x2="115.6" y2="499.6"/><line x1="115.6" y1="394.3" x2="115.6" y2="396.1"/>
<line x1="159.45" y1="501.4" x2="159.45" y2="499.6"/><line x1="159.45" y1="394.3" x2="159.45" y2="396.1"/>
<line x1="27.7" y1="501.5" x2="29.5" y2="501.5"/><line x1="195.1" y1="501.5" x2="193.3" y2="501.5"/>
<line x1="27.7" y1="458.35" x2="29.5" y2="458.35"/><line x1="195.1" y1="458.35" x2="193.3" y2="458.35"/>
<line x1="27.7" y1="415.2" x2="29.5" y2="415.2"/><line x1="195.1" y1="415.2" x2="193.3" y2="415.2"/>
</g>
<g font-family='"Liberation Sans", Arial, Helvetica, sans-serif' fill="#333333" font-size="10.1" text-anchor="middle">
<text x="27.9" y="513.5">0</text>
<text x="71.75" y="513.5">1</text>
<text x="115.6" y="513.5">2</text>
<text x="159.45" y="513.5">3</text>
</g>
<g font-family='"Liberation Sans", Arial, Helvetica, sans-serif' fill="#333333" font-size="10.1" text-anchor="end">
<text x="24.5" y="505">0</text>
<text x="24.5" y="461.85">5</text>
<text x="24.5" y="418.7">10</text>
</g>
<text font-family='"Liberation Sans", Arial, Helvetica, sans-serif' fill="#333333" font-size="9.9" x="27.4" y="393.2"><tspan fill="#858585" font-size="10.4" dy="0.9" style="stroke:none">&#215;</tspan><tspan dy="-0.9">10</tspan><tspan font-size="7.4" dy="-5.0">7</tspan></text>
<text font-family='"Liberation Sans", Arial, Helvetica, sans-serif' fill="#333333" font-size="10.4" text-anchor="middle" x="111" y="527">Time interval (sec)</text>
<text font-family='"Liberation Sans", Arial, Helvetica, sans-serif' fill="#333333" font-size="9.6" x="169.6" y="528"><tspan fill="#858585" font-size="10.4" dy="1.2" style="stroke:none">&#215;</tspan><tspan dx="0.6" dy="-1.2">10</tspan><tspan font-size="7.2" dy="-4.8">-8</tspan></text>
<text font-family='"Liberation Sans", Arial, Helvetica, sans-serif' fill="#333333" font-size="10.4" text-anchor="middle" transform="translate(10 447.6) rotate(-90)">Frequency</text>
<text font-family='"Liberation Serif", "Times New Roman", serif' font-weight="bold" fill="#1a1a1a" style="stroke:none" font-size="11.4" text-anchor="middle" x="100.5" y="544.4">(d)</text>
<g fill="#5da7dc" stroke="#4a7094" stroke-width="0.85">
<rect x="273.9" y="405.64" width="8.84" height="95.66"/>
<rect x="282.74" y="428.93" width="8.84" height="72.37"/>
<rect x="291.58" y="444.56" width="8.84" height="56.74"/>
<rect x="300.42" y="457.96" width="8.84" height="43.34"/>
<rect x="309.26" y="469.12" width="8.84" height="32.18"/>
<rect x="318.1" y="477.1" width="8.84" height="24.2"/>
<rect x="326.94" y="483.48" width="8.84" height="17.82"/>
<rect x="335.78" y="488.9" width="8.84" height="12.4"/>
<rect x="344.62" y="492.09" width="8.84" height="9.21"/>
<rect x="353.46" y="494.96" width="8.84" height="6.34"/>
<rect x="362.3" y="497.2" width="8.84" height="4.1"/>
<rect x="371.14" y="498.79" width="8.84" height="2.51"/>
<rect x="379.98" y="500.07" width="8.84" height="1.23"/>
<rect x="388.82" y="500.51" width="8.84" height="0.79"/>
<rect x="397.66" y="500.8" width="8.84" height="0.5"/>
<rect x="406.5" y="501.34" width="8.84" height="-0.04"/>
</g>
<path d="M276.42 394.1 L277.77 398.64 L279.12 402.99 L280.47 407.15 L281.82 411.14 L283.17 414.96 L284.52 418.62 L285.87 422.12 L287.21 425.47 L288.56 428.69 L289.91 431.77 L291.26 434.71 L292.61 437.54 L293.96 440.24 L295.31 442.83 L296.66 445.31 L298.01 447.68 L299.36 449.96 L300.7 452.14 L302.05 454.22 L303.4 456.22 L304.75 458.14 L306.1 459.97 L307.45 461.72 L308.8 463.4 L310.15 465.02 L311.5 466.56 L312.85 468.03 L314.19 469.45 L315.54 470.8 L316.89 472.1 L318.24 473.34 L319.59 474.53 L320.94 475.67 L322.29 476.77 L323.64 477.81 L324.99 478.81 L326.34 479.77 L327.68 480.69 L329.03 481.57 L330.38 482.41 L331.73 483.22 L333.08 483.99 L334.43 484.73 L335.78 485.44 L337.13 486.12 L338.48 486.77 L339.82 487.39 L341.17 487.99 L342.52 488.56 L343.87 489.11 L345.22 489.63 L346.57 490.13 L347.92 490.61 L349.27 491.07 L350.62 491.51 L351.97 491.93 L353.31 492.34 L354.66 492.73 L356.01 493.1 L357.36 493.45 L358.71 493.79 L360.06 494.12 L361.41 494.43 L362.76 494.73 L364.11 495.02 L365.46 495.29 L366.8 495.55 L368.15 495.8 L369.5 496.04 L370.85 496.27 L372.2 496.5 L373.55 496.71 L374.9 496.91 L376.25 497.1 L377.6 497.29 L378.95 497.47 L380.29 497.64 L381.64 497.8 L382.99 497.96 L384.34 498.11 L385.69 498.25 L387.04 498.39 L388.39 498.52 L389.74 498.65 L391.09 498.77 L392.43 498.88 L393.78 498.99 L395.13 499.1 L396.48 499.2 L397.83 499.3 L399.18 499.39 L400.53 499.48 L401.88 499.56 L403.23 499.65 L404.58 499.72 L405.92 499.8 L407.27 499.87 L408.62 499.94 L409.97 500.01 L411.32 500.07 L412.67 500.13 L414.02 500.19 L415.37 500.24 L416.72 500.3 L418.07 500.35 L419.41 500.4 L420.76 500.44 L422.11 500.49 L423.46 500.53 L424.81 500.57 L426.16 500.61 L427.51 500.65 L428.86 500.68 L430.21 500.72 L431.56 500.75 L432.9 500.78 L434.25 500.81 L435.6 500.84 L436.95 500.87 L438.3 500.9" fill="none" stroke="#dc4a5e" stroke-opacity="0.62" stroke-width="1.05"/>
<rect x="273.9" y="394.1" width="164.4" height="107.2" fill="none" stroke="#9c9c9c" stroke-width="1"/>
<g stroke="#9c9c9c" stroke-width="1">
<line x1="273.9" y1="501.3" x2="273.9" y2="499.5"/><line x1="273.9" y1="394.1" x2="273.9" y2="395.9"/>
<line x1="328.7" y1="501.3" x2="328.7" y2="499.5"/><line x1="328.7" y1="394.1" x2="328.7" y2="395.9"/>
<line x1="383.5" y1="501.3" x2="383.5" y2="499.5"/><line x1="383.5" y1="394.1" x2="383.5" y2="395.9"/>
<line x1="438.3" y1="501.3" x2="438.3" y2="499.5"/><line x1="438.3" y1="394.1" x2="438.3" y2="395.9"/>
<line x1="273.9" y1="501.5" x2="275.7" y2="501.5"/><line x1="438.3" y1="501.5" x2="436.5" y2="501.5"/>
<line x1="273.9" y1="469.6" x2="275.7" y2="469.6"/><line x1="438.3" y1="469.6" x2="436.5" y2="469.6"/>
<line x1="273.9" y1="437.7" x2="275.7" y2="437.7"/><line x1="438.3" y1="437.7" x2="436.5" y2="437.7"/>
<line x1="273.9" y1="405.8" x2="275.7" y2="405.8"/><line x1="438.3" y1="405.8" x2="436.5" y2="405.8"/>
</g>
<g font-family='"Liberation Sans", Arial, Helvetica, sans-serif' fill="#333333" font-size="10.1" text-anchor="middle">
<text x="273.9" y="512.6">0</text>
<text x="328.7" y="512.6">5</text>
<text x="383.5" y="512.6">10</text>
<text x="438.3" y="512.6">15</text>
</g>
<g font-family='"Liberation Sans", Arial, Helvetica, sans-serif' fill="#333333" font-size="10.1" text-anchor="end">
<text x="270" y="505">0</text>
<text x="270" y="473.1">1</text>
<text x="270" y="441.2">2</text>
<text x="270" y="409.3">3</text>
</g>
<text font-family='"Liberation Sans", Arial, Helvetica, sans-serif' fill="#333333" font-size="9.9" x="273.6" y="393"><tspan fill="#858585" font-size="10.4" dy="0.9" style="stroke:none">&#215;</tspan><tspan dy="-0.9">10</tspan><tspan font-size="7.4" dy="-5.0">8</tspan></text>
<text font-family='"Liberation Sans", Arial, Helvetica, sans-serif' fill="#333333" font-size="10.4" text-anchor="middle" x="355.2" y="526.3">Time interval (sec)</text>
<text font-family='"Liberation Sans", Arial, Helvetica, sans-serif' fill="#333333" font-size="9.6" x="408.9" y="527.3"><tspan fill="#858585" font-size="10.4" dy="1.2" style="stroke:none">&#215;</tspan><tspan dx="0.6" dy="-1.2">10</tspan><tspan font-size="7.2" dy="-4.8">-9</tspan></text>
<text font-family='"Liberation Sans", Arial, Helvetica, sans-serif' fill="#333333" font-size="10.4" text-anchor="middle" transform="translate(261.2 447.2) rotate(-90)">Frequency</text>
<text font-family='"Liberation Serif", "Times New Roman", serif' font-weight="bold" fill="#1a1a1a" style="stroke:none" font-size="11.4" text-anchor="middle" x="344.4" y="544.5">(e)</text>
</svg>
</body></html>
